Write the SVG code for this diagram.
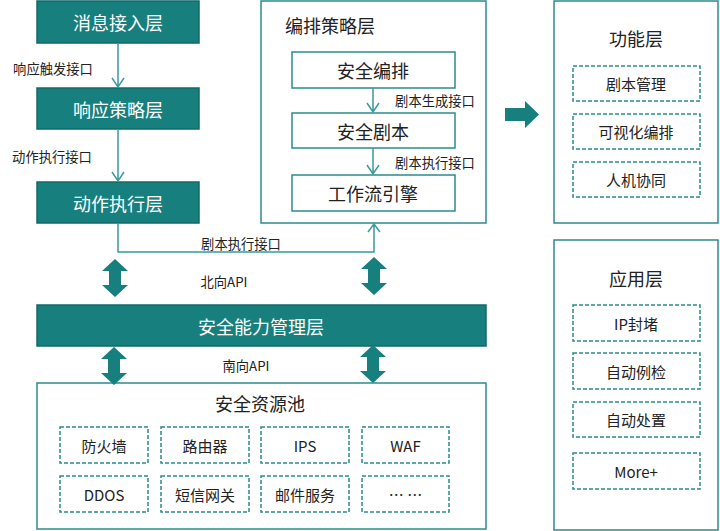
<svg xmlns="http://www.w3.org/2000/svg" width="720" height="531" viewBox="0 0 720 531">
<defs>
<style>
text{font-family:"Noto Sans CJK SC","Liberation Sans",sans-serif;text-anchor:middle;dominant-baseline:central;fill:#222}
.fill{fill:#187f7f;stroke:#126a6a;stroke-width:1.5}
.ft{fill:#fff;font-size:18px}
.frame{fill:#fff;stroke:#2a8c8f;stroke-width:1.5}
.title{font-size:18px}
.inner{fill:#fff;stroke:#2a8c8f;stroke-width:1.5}
.dash{fill:#fff;stroke:#2a8c8f;stroke-width:1.5;stroke-dasharray:4 2}
.dt{font-size:15px}
.lbl{font-size:13.3px}
.line{fill:none;stroke:#3a9a9c;stroke-width:1.5}
.big{fill:#187f7f}
</style>
</defs>

<g id="n-msg"><rect class="fill" x="37" y="1" width="162" height="42"/><text class="ft" x="118" y="22">消息接入层</text></g>
<g id="n-resp"><rect class="fill" x="37" y="88" width="162" height="41"/><text class="ft" x="118" y="108.5">响应策略层</text></g>
<g id="n-act"><rect class="fill" x="37" y="182" width="162" height="41"/><text class="ft" x="118" y="202.5">动作执行层</text></g>

<g id="n-orch">
<rect class="frame" x="261" y="1" width="225" height="222"/>
<text class="title" x="330" y="25">编排策略层</text>
</g>
<g id="n-secorch"><rect class="inner" x="292" y="52" width="163" height="36"/><text class="title" x="373" y="70">安全编排</text></g>
<g id="n-playbook"><rect class="inner" x="292" y="113" width="163" height="35"/><text class="title" x="373" y="130.5">安全剧本</text></g>
<g id="n-engine"><rect class="inner" x="292" y="175" width="163" height="36"/><text class="title" x="373" y="193">工作流引擎</text></g>

<g id="n-func">
<rect class="frame" x="554" y="1" width="164" height="222"/>
<text class="title" x="636" y="38">功能层</text>
<rect class="dash" x="573" y="66" width="127" height="35"/><text class="dt" x="636" y="83.5">剧本管理</text>
<rect class="dash" x="573" y="114" width="127" height="35"/><text class="dt" x="636" y="131.5">可视化编排</text>
<rect class="dash" x="573" y="162" width="127" height="35"/><text class="dt" x="636" y="179.5">人机协同</text>
</g>

<g id="n-app">
<rect class="frame" x="554" y="240" width="164" height="290"/>
<text class="title" x="636" y="278">应用层</text>
<rect class="dash" x="573" y="305" width="127" height="36"/><text class="dt" x="636" y="323">IP封堵</text>
<rect class="dash" x="573" y="353" width="127" height="36"/><text class="dt" x="636" y="371">自动例检</text>
<rect class="dash" x="573" y="402" width="127" height="35"/><text class="dt" x="636" y="419.5">自动处置</text>
<rect class="dash" x="573" y="453" width="127" height="36"/><text class="dt" x="636" y="471">More+</text>
</g>

<g id="n-cap"><rect class="fill" x="37" y="305" width="449" height="41"/><text class="ft" x="261" y="325.5">安全能力管理层</text></g>

<g id="n-pool">
<rect class="frame" x="37" y="383" width="449" height="146"/>
<text class="title" x="260" y="403">安全资源池</text>
<rect class="dash" x="60" y="427" width="88" height="36"/><text class="dt" x="104" y="445">防火墙</text>
<rect class="dash" x="161" y="427" width="88" height="36"/><text class="dt" x="205" y="445">路由器</text>
<rect class="dash" x="261" y="427" width="88" height="36"/><text class="dt" x="305" y="445">IPS</text>
<rect class="dash" x="362" y="427" width="87" height="36"/><text class="dt" x="405.5" y="445">WAF</text>
<rect class="dash" x="60" y="476" width="88" height="36"/><text class="dt" x="104" y="494">DDOS</text>
<rect class="dash" x="161" y="476" width="88" height="36"/><text class="dt" x="205" y="494">短信网关</text>
<rect class="dash" x="261" y="476" width="88" height="36"/><text class="dt" x="305" y="494">邮件服务</text>
<rect class="dash" x="362" y="476" width="87" height="36"/><text class="dt" x="405.5" y="494">… …</text>
</g>

<g id="connectors">
<path class="line" d="M118,43 V87 M112,78 L118,87 L124,78"/>
<path class="line" d="M118,129 V181 M112,172 L118,181 L124,172"/>
<path class="line" d="M373,88 V112 M367,103 L373,112 L379,103"/>
<path class="line" d="M373,148 V174 M367,165 L373,174 L379,165"/>
<path class="line" d="M118,223 V252 H374 V224 M368,232 L374,224 L380,232"/>
<text class="lbl" x="53" y="68">响应触发接口</text>
<text class="lbl" x="52" y="156">动作执行接口</text>
<text class="lbl" x="435" y="100">剧本生成接口</text>
<text class="lbl" x="435" y="162">剧本执行接口</text>
<text class="lbl" x="241" y="243">剧本执行接口</text>
<text class="lbl" x="224" y="281">北向API</text>
<text class="lbl" x="246" y="365">南向API</text>
<path class="big" d="M115,259 L128,271 L121,271 L121,285 L128,285 L115,297 L102,285 L109,285 L109,271 L102,271 Z"/>
<path class="big" d="M374,257 L387,269 L380,269 L380,283 L387,283 L374,295 L361,283 L368,283 L368,269 L361,269 Z"/>
<path class="big" d="M114,347 L127,359 L120,359 L120,373 L127,373 L114,385 L101,373 L108,373 L108,359 L101,359 Z"/>
<path class="big" d="M373,345 L386,357 L379,357 L379,371 L386,371 L373,383 L360,371 L367,371 L367,357 L360,357 Z"/>
<path class="big" d="M505,108 H525 V101 L539,114.5 L525,128 V121 H505 Z"/>
</g>
</svg>
